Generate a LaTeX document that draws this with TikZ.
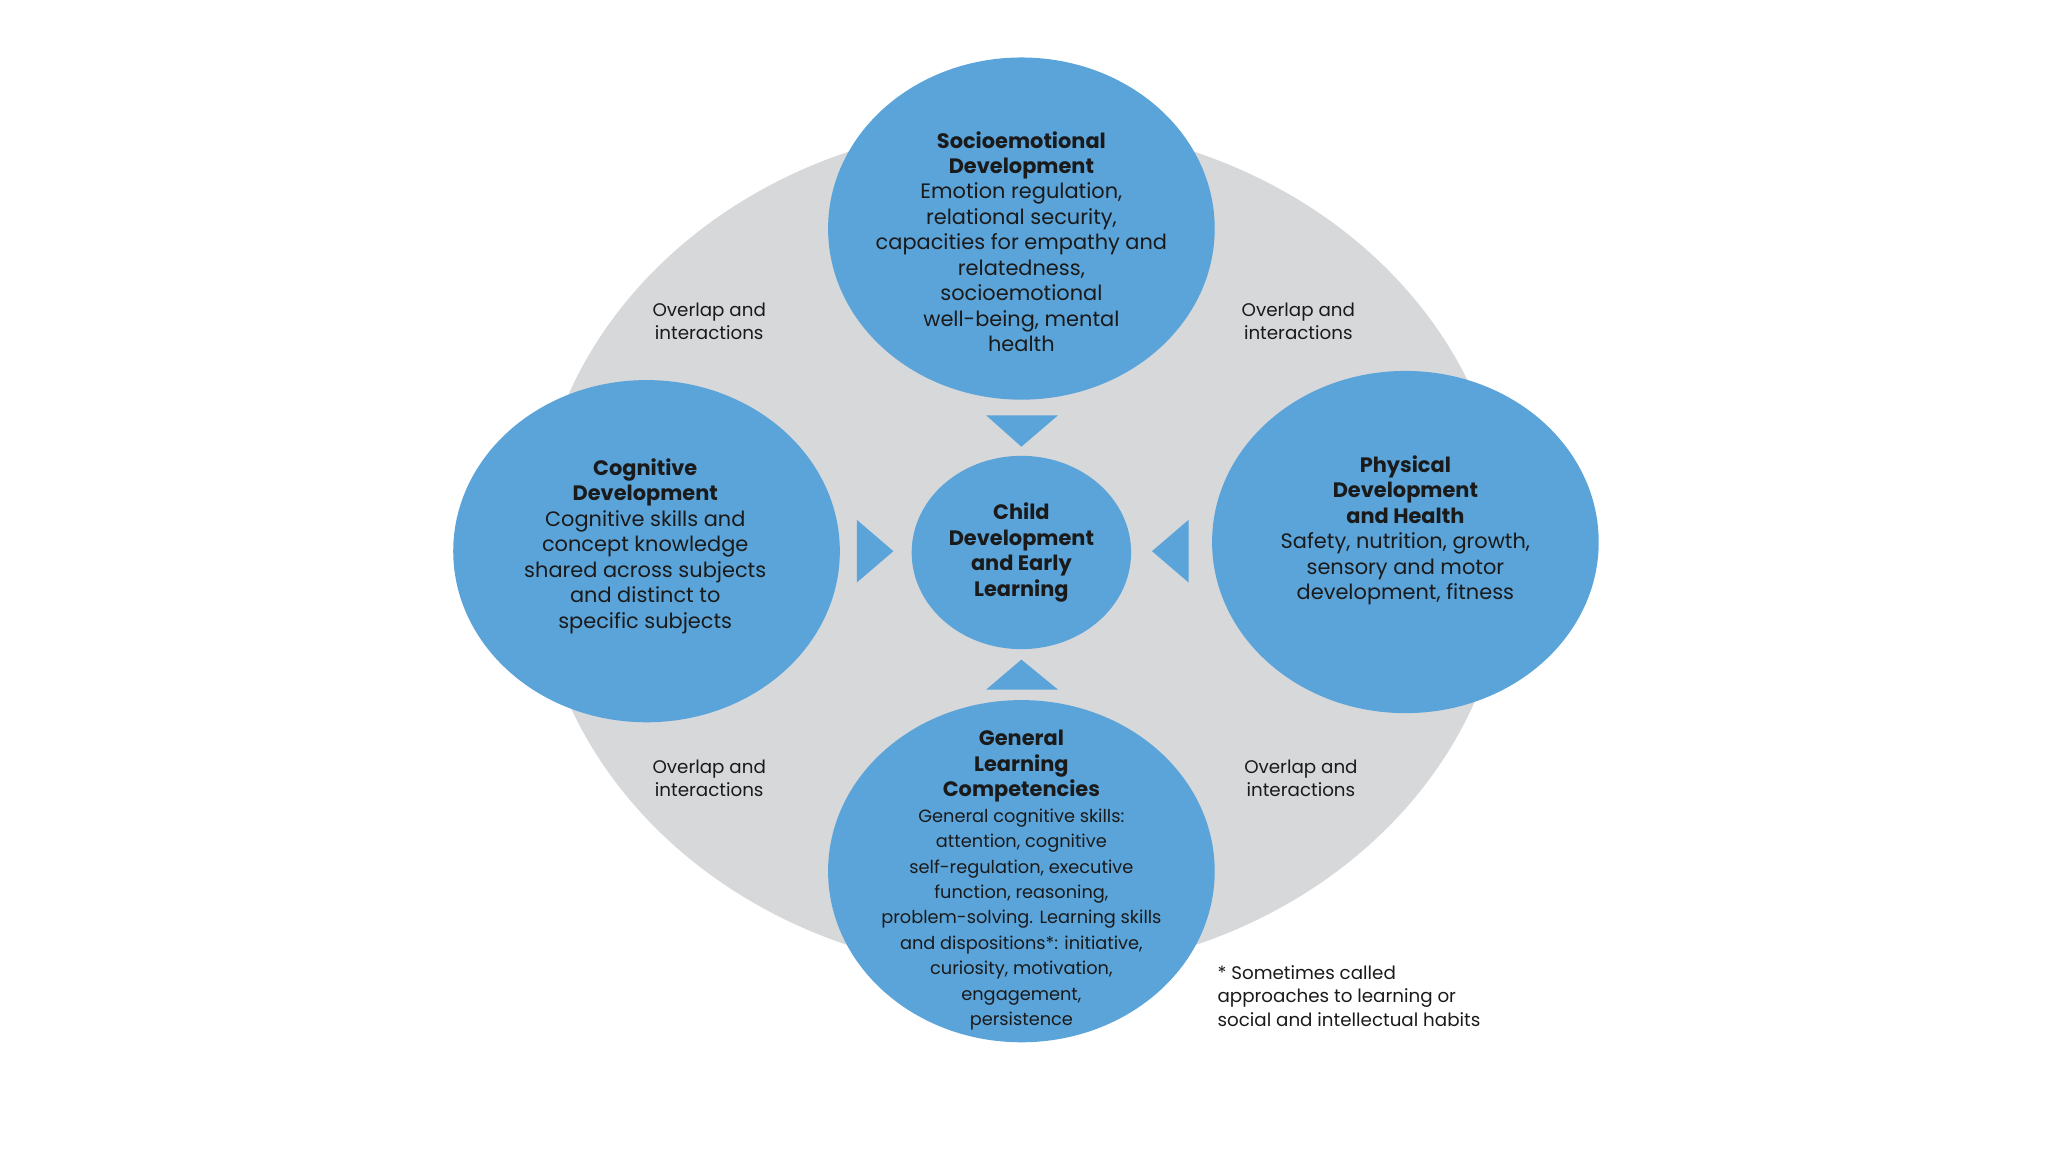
\documentclass[tikz,border=0pt]{standalone}
\usepackage{fontspec}
\setmainfont{Poppins}
\usetikzlibrary{shapes.geometric}
\definecolor{blu}{HTML}{5BA4DA}
\definecolor{gry}{HTML}{D6D8DA}
\definecolor{txt}{HTML}{1A1A1A}
\newcommand{\bigb}{\fontsize{16}{19.5}\selectfont\bfseries}
\newcommand{\smallr}{\fontsize{13.6}{17.8}\selectfont\mdseries}
\begin{document}
\begin{tikzpicture}[x=1pt,y=-1pt,
  blob/.style={ellipse,fill=blu,inner sep=0pt,minimum width=296pt,minimum height=262pt},
  body/.style={align=center,text=txt,font=\fontsize{16}{19.5}\selectfont,inner sep=0pt},
  small/.style={align=center,text=txt,font=\fontsize{13.6}{17.8}\selectfont,inner sep=0pt},
  ov/.style={align=center,text=txt,font=\fontsize{14}{18}\selectfont,inner sep=0pt},
  tri/.style={fill=blu}]
\useasboundingbox (0,0) rectangle (1568,882);
\node[ellipse,fill=gry,inner sep=0pt,minimum width=744pt,minimum height=650pt] (bg) at (782,420) {};
\node[blob] (top) at (782,175) {};
\node[blob] (left) at (495,422) {};
\node[blob] (right) at (1076,415) {};
\node[blob] (bot) at (782,667) {};
\node[ellipse,fill=blu,inner sep=0pt,minimum width=168pt,minimum height=148pt] (ctr) at (782,423) {};
\fill[tri] (755,318) -- (810,318) -- (782,342) -- cycle;
\fill[tri] (755,528) -- (810,528) -- (782,505) -- cycle;
\fill[tri] (656,398) -- (656,446) -- (684,422) -- cycle;
\fill[tri] (910,398) -- (910,446) -- (882,422) -- cycle;
\node[body] (tt) at (782,185) {\textbf{Socioemotional}\\\textbf{Development}\\Emotion regulation,\\relational security,\\capacities for empathy and\\relatedness,\\socioemotional\\well-being, mental\\health};
\node[body] (lt) at (494,418) {\textbf{Cognitive}\\\textbf{Development}\\Cognitive skills and\\concept knowledge\\shared across subjects\\and distinct to\\specific subjects};
\node[body] (rt) at (1076,406) {\textbf{Physical}\\\textbf{Development}\\\textbf{and Health}\\Safety, nutrition, growth,\\sensory and motor\\development, fitness};
\node[body,font=\bfseries\fontsize{16}{19.5}\selectfont] (ct) at (ctr) {Child\\Development\\and Early\\Learning};
\node[small,font=\bigb] (bt) at (782,674) {General\\Learning\\Competencies\\\smallr General cognitive skills:\\\smallr attention, cognitive\\\smallr self-regulation, executive\\\smallr function, reasoning,\\\smallr problem-solving. Learning skills\\\smallr and dispositions*: initiative,\\\smallr curiosity, motivation,\\\smallr engagement,\\\smallr persistence};
\node[ov] (o1) at (543,246) {Overlap and\\interactions};
\node[ov] (o2) at (994,246) {Overlap and\\interactions};
\node[ov] (o3) at (543,596) {Overlap and\\interactions};
\node[ov] (o4) at (996,596) {Overlap and\\interactions};
\node[ov,align=left,anchor=north west] (fn) at (932,739) {* Sometimes called\\approaches to learning or\\social and intellectual habits};
\end{tikzpicture}
\end{document}
